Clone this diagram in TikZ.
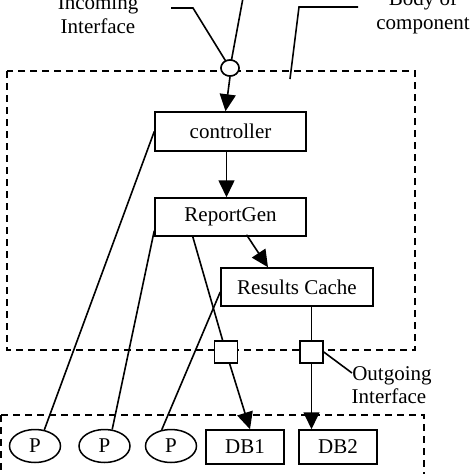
\documentclass[tikz,border=0pt]{standalone}
\usepackage{fontspec}
\setmainfont{Liberation Serif}
\usetikzlibrary{arrows.meta,shapes.geometric}
\begin{document}
\begin{tikzpicture}[x=1pt,y=-1pt,
  txt/.style={font=\fontsize{21}{23.5}\selectfont, inner sep=0pt},
  box/.style={draw, line width=1.5pt, fill=white, inner sep=0pt, font=\fontsize{21}{23.5}\selectfont},
  pbox/.style={box, ellipse, minimum width=51pt, minimum height=33pt},
  port/.style={draw, line width=1.5pt, fill=white, minimum width=23pt, minimum height=22pt, inner sep=0pt},
  iport/.style={draw, line width=1.5pt, fill=white, ellipse, minimum width=18pt, minimum height=16pt, inner sep=0pt},
  wire/.style={line width=1.6pt},
  arr/.style={wire, -{Triangle[length=17pt,width=16pt]}},
  bound/.style={dash pattern=on 7pt off 5pt, line width=1.4pt}
]
\clip (0,0) rectangle (474,474);
\fill[white] (0,0) rectangle (474,474);

% component boundaries
\draw[bound] (7,71) rectangle (415,350);
\draw[bound] (1,415) -- (424,415) -- (424,490);
\draw[bound] (1,415) -- (1,490);

% labels
\node[txt, anchor=base] (inc1) at (98,9) {Incoming};
\node[txt, anchor=base] (inc2) at (98,33) {Interface};
\node[txt, anchor=base] (bod1) at (423,5) {Body of};
\node[txt, anchor=base] (bod2) at (423,29) {component};
\node[txt, anchor=base] (out1) at (392,380) {Outgoing};
\node[txt, anchor=base] (out2) at (389,403) {Interface};

% nodes
\node[box, minimum width=151pt, minimum height=39pt] (ctrl) at (230.5,131.5) {controller};
\node[box, minimum width=151pt, minimum height=38pt] (rg) at (230.5,217) {ReportGen};
\node[box, minimum width=152pt, minimum height=38pt] (rc) at (297,287) {Results Cache};
\node[box, minimum width=78pt, minimum height=34pt] (db1) at (245,447) {DB1};
\node[box, minimum width=78pt, minimum height=34pt] (db2) at (338,447) {DB2};
\node[pbox] (p1) at (35,446) {P};
\node[pbox] (p2) at (104.5,446) {P};
\node[pbox] (p3) at (171,446) {P};

% coordinates for free ends
\coordinate (topin) at (243,-2);
\coordinate (incA) at (171,8);
\coordinate (incB) at (193,8);
\coordinate (bodA) at (358,7);
\coordinate (bodB) at (299,7);
\coordinate (bodC) at (290,79);
\coordinate (outA) at (352,373);

% connectors
\draw[wire] (incA) -- (incB) -- (230,68);
\draw[wire] (topin) -- (230,68);
\draw[wire] (bodA) -- (bodB) -- (bodC);

\node[iport] (circ) at (230,68) {};
\node[port] (sq1) at (226,352) {};
\node[port] (sq2) at (311.5,352) {};

\draw[arr] (circ.south) -- ([xshift=-5pt]ctrl.north);
\draw[arr] ([xshift=-4pt]ctrl.south) -- ([xshift=-4pt]rg.north);
\draw[arr] ([xshift=16pt,yshift=2pt]rg.south) -- ([xshift=-29pt]rc.north);

\draw[wire] ([xshift=-38pt,yshift=1pt]rg.south) -- (sq1);
\draw[arr] (sq1) -- ([xshift=5pt]db1.north);
\draw[wire] (rc.south -| sq2) -- (sq2.north);
\draw[arr] (sq2.south) -- (db2.north -| sq2);
\draw[wire] (sq2.east) -- (outA);

\draw[wire] (p1.60) -- (ctrl.west);
\draw[wire] (p2.65) -- ([yshift=6pt]rg.south west);
\draw[wire] (p3.120) -- ([yshift=-5pt]rc.west);

% redraw ports on top
\node[port] at (sq1) {};
\node[port] at (sq2) {};
\node[iport] at (circ) {};
\end{tikzpicture}
\end{document}
